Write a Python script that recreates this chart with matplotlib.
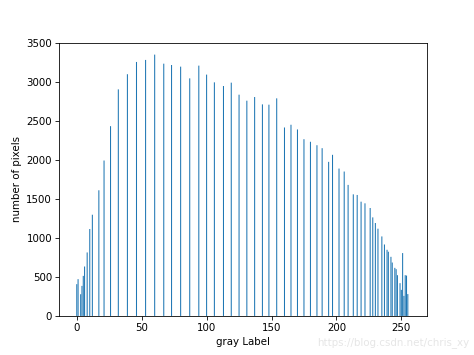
import matplotlib
matplotlib.use("Agg")
import matplotlib.pyplot as plt

gray_levels = [0, 1, 3, 4, 5, 6, 8, 10, 12, 17, 21, 26, 32, 39, 46, 53, 60, 67, 73, 80,
               87, 94, 100, 106, 113, 119, 125, 131, 137, 143, 148, 154, 160, 165, 170,
               175, 180, 185, 189, 194, 197, 202, 206, 209, 213, 216, 219, 222, 226, 228,
               230, 232, 235, 237, 239, 240, 242, 243, 245, 246, 247, 249, 250, 251, 252,
               253, 254, 255]
pixel_counts = [407, 471, 278, 385, 513, 633, 813, 1113, 1296, 1609, 1990, 2430, 2901, 3095,
                3252, 3278, 3346, 3230, 3213, 3192, 3042, 3205, 3090, 2991, 2944, 2987, 2833,
                2756, 2803, 2709, 2705, 2786, 2413, 2448, 2388, 2263, 2230, 2186, 2148, 1973,
                2063, 1887, 1849, 1678, 1557, 1549, 1463, 1442, 1382, 1262, 1190, 1117, 1018,
                915, 847, 822, 757, 684, 616, 599, 522, 420, 334, 805, 257, 522, 517, 280]

fig = plt.figure(figsize=(6.406, 4.7975), dpi=74)
ax = fig.add_subplot(111)
bars = ax.bar(gray_levels, pixel_counts, width=0.8, color="#1f77b4", linewidth=0)
for b in bars:
    b.set_snap(False)
ax.set_xlim(-13.5, 269.5)
ax.set_ylim(0, 3500)
ax.set_xlabel("gray Label")
ax.set_ylabel("number of pixels")
fig.text(0.99, 0.035, "https://blog.csdn.net/chris_xy", ha="right", va="center",
         color="#e6e6e6", fontsize=10)
fig.savefig("out.png", dpi=74)
